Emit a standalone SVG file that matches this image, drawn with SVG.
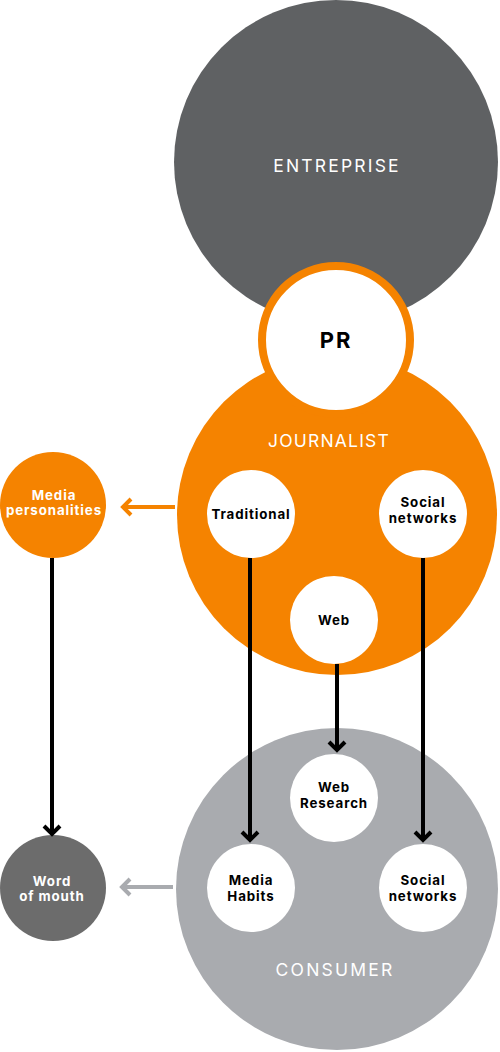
<svg xmlns="http://www.w3.org/2000/svg" width="500" height="1052" viewBox="0 0 500 1052">
<style>
.big{font-family:Inter,"Liberation Sans",sans-serif;font-size:17.5px;fill:#fff;letter-spacing:2.2px;text-anchor:middle}
.lbl{font-family:Inter,"Liberation Sans",sans-serif;font-size:13.3px;font-weight:bold;fill:#000;letter-spacing:0.9px;text-anchor:middle}
.lblw{font-family:Inter,"Liberation Sans",sans-serif;font-size:13.3px;font-weight:bold;fill:#fff;letter-spacing:0.9px;text-anchor:middle}
.wc{fill:#fff}
.ln{fill:none;stroke-width:4;stroke-linecap:butt}
.hd{fill:none;stroke-width:4;stroke-linejoin:miter}
</style>
<rect width="500" height="1052" fill="#fff"/>
<g id="entreprise">
<circle cx="336" cy="162" r="162" fill="#5f6163"/>
<text class="big" x="337" y="172">ENTREPRISE</text>
</g>
<g id="consumer">
<circle cx="337" cy="889" r="161" fill="#a9abaf"/>
<text class="big" x="335" y="976">CONSUMER</text>
</g>
<g id="journalist">
<circle cx="337" cy="515" r="160" fill="#f58300"/>
<text class="big" x="329" y="447" style="letter-spacing:1.2px">JOURNALIST</text>
</g>
<g id="pr">
<circle cx="336" cy="340" r="74" fill="#fff" stroke="#f58300" stroke-width="8"/>
<text x="336" y="348" font-family="Inter,'Liberation Sans',sans-serif" font-size="22" font-weight="bold" letter-spacing="2" text-anchor="middle" fill="#000">PR</text>
</g>
<g id="traditional">
<circle class="wc" cx="251" cy="514" r="44"/>
<text class="lbl" x="251" y="519">Traditional</text>
</g>
<g id="social-networks-j">
<circle class="wc" cx="423" cy="514" r="44"/>
<text class="lbl" x="423" y="507">Social</text>
<text class="lbl" x="423" y="523">networks</text>
</g>
<g id="web">
<circle class="wc" cx="334" cy="620" r="44"/>
<text class="lbl" x="334" y="625">Web</text>
</g>
<g id="web-research">
<circle class="wc" cx="334" cy="798" r="44"/>
<text class="lbl" x="334" y="792">Web</text>
<text class="lbl" x="334" y="808">Research</text>
</g>
<g id="media-habits">
<circle class="wc" cx="251" cy="888" r="44"/>
<text class="lbl" x="251" y="885">Media</text>
<text class="lbl" x="251" y="901">Habits</text>
</g>
<g id="social-networks-c">
<circle class="wc" cx="423" cy="888" r="44"/>
<text class="lbl" x="423" y="885">Social</text>
<text class="lbl" x="423" y="901">networks</text>
</g>
<g id="media-personalities">
<circle cx="53" cy="505" r="53" fill="#f58300"/>
<text class="lblw" x="54" y="500">Media</text>
<text class="lblw" x="54" y="515">personalities</text>
</g>
<g id="word-of-mouth">
<circle cx="53" cy="888" r="53" fill="#6c6c6c"/>
<text class="lblw" x="52" y="886">Word</text>
<text class="lblw" x="52" y="901">of mouth</text>
</g>
<g id="connectors">
<line class="ln" stroke="#f58300" x1="175" y1="507" x2="123" y2="507"/>
<polyline class="hd" stroke="#f58300" points="131,499 123,507 131,515"/>
<line class="ln" stroke="#000" x1="52" y1="558" x2="52" y2="833"/>
<polyline class="hd" stroke="#000" points="44,826 52,834 60,826"/>
<line class="ln" stroke="#a9abaf" x1="173" y1="887" x2="122" y2="887"/>
<polyline class="hd" stroke="#a9abaf" points="130,879 122,887 130,895"/>
<line class="ln" stroke="#000" x1="250" y1="558" x2="250" y2="840"/>
<polyline class="hd" stroke="#000" points="242,832 250,840 258,832"/>
<line class="ln" stroke="#000" x1="423" y1="558" x2="423" y2="840"/>
<polyline class="hd" stroke="#000" points="415,832 423,840 431,832"/>
<line class="ln" stroke="#000" x1="337" y1="664" x2="337" y2="750"/>
<polyline class="hd" stroke="#000" points="329,742 337,750 345,742"/>
</g>
</svg>
